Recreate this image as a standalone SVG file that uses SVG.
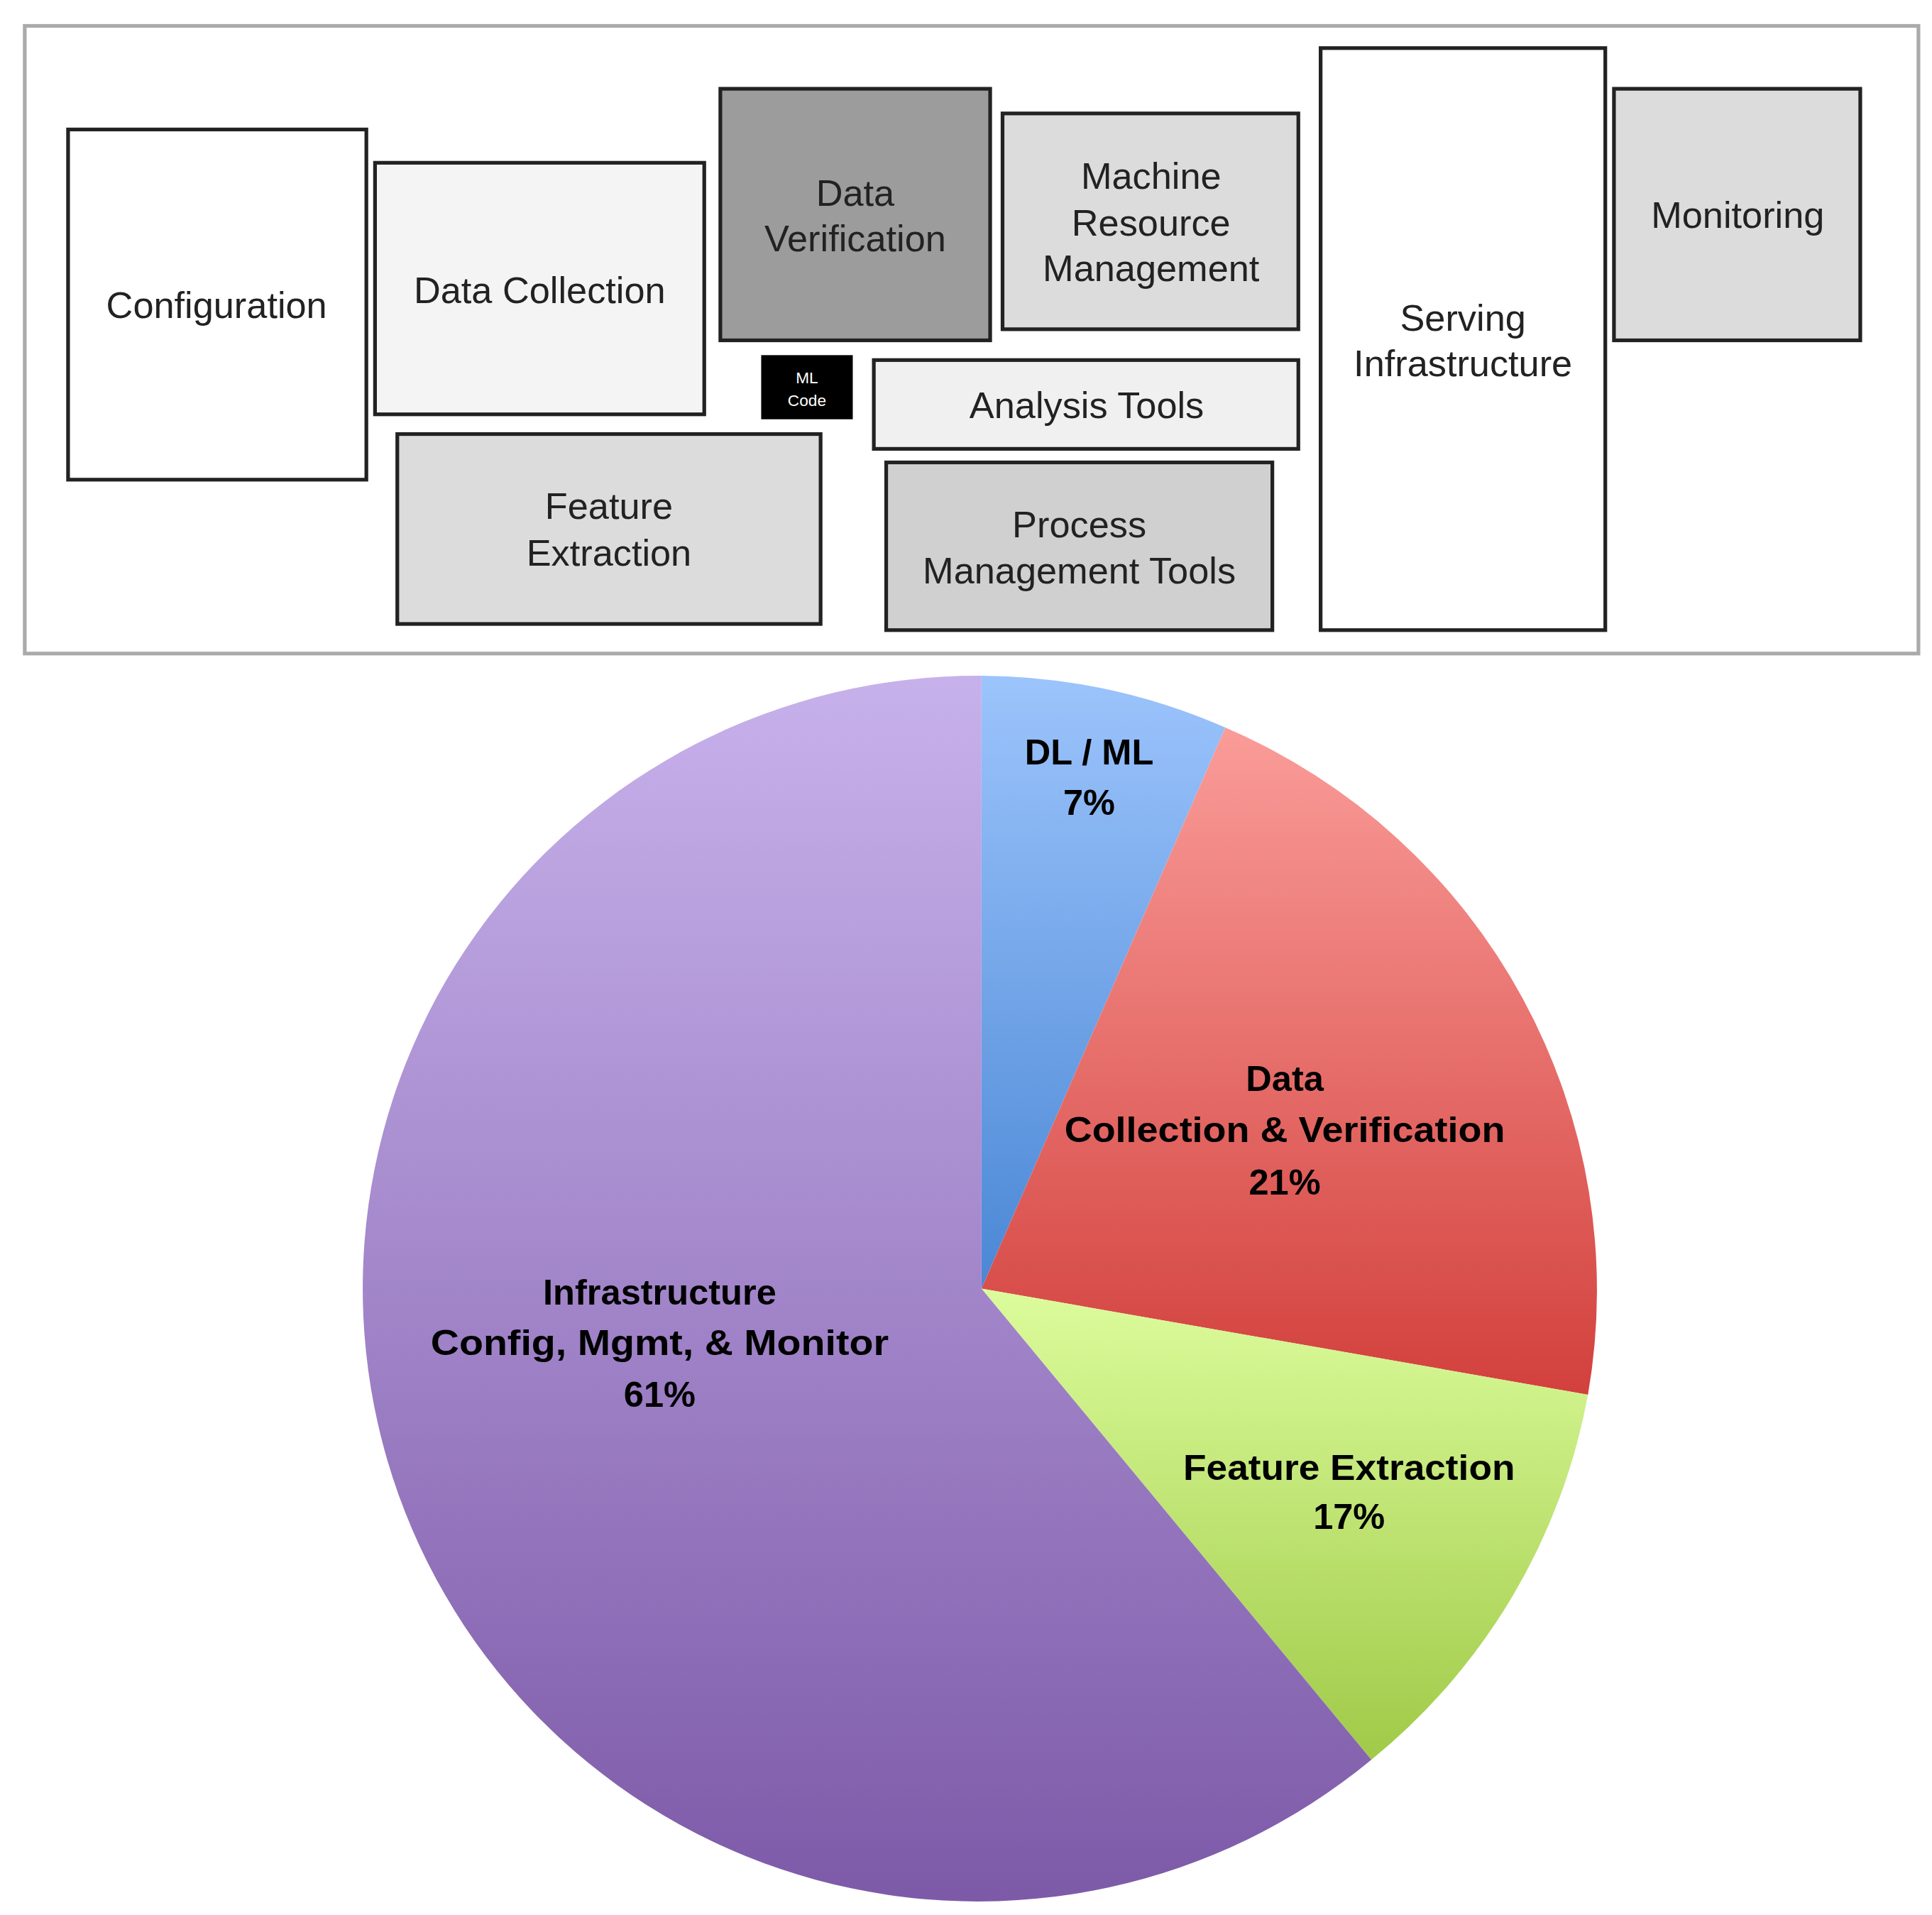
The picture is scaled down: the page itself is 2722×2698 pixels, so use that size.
<svg xmlns="http://www.w3.org/2000/svg" width="2722" height="2698" viewBox="0 0 2722 2698">
<style>
.box{stroke:#222;stroke-width:3}
.bt{font-family:"Liberation Sans",Arial,sans-serif;font-size:30px;fill:#222;text-anchor:middle}
.pl{font-family:"Liberation Sans",Arial,sans-serif;font-weight:bold;font-size:29px;fill:#000;text-anchor:middle}
</style>
<defs>
<linearGradient id="gb" x1="0" y1="0" x2="0" y2="1"><stop offset="0" stop-color="#9cc4fc"/><stop offset="1" stop-color="#4a87d5"/></linearGradient>
<linearGradient id="gr" x1="0" y1="0" x2="0" y2="1"><stop offset="0" stop-color="#fa9c99"/><stop offset="1" stop-color="#d2403c"/></linearGradient>
<linearGradient id="gg" x1="0" y1="0" x2="0" y2="1"><stop offset="0" stop-color="#dcfc9c"/><stop offset="1" stop-color="#a0ca48"/></linearGradient>
<linearGradient id="gp" x1="0" y1="0" x2="0" y2="1"><stop offset="0" stop-color="#c7b1eb"/><stop offset="1" stop-color="#7d5aa8"/></linearGradient>
</defs>
<rect width="2722" height="2698" fill="#fff"/>
<g transform="scale(1.7438,1.7373)">
<rect x="20" y="21" width="1530" height="509" fill="#fff" stroke="#aaa" stroke-width="3"/>
<g id="configuration"><rect class="box" x="55" y="105" width="241" height="284" fill="#fff"/><text class="bt" x="175" y="258">Configuration</text></g>
<g id="data-collection"><rect class="box" x="303" y="132" width="266" height="204" fill="#f4f4f4"/><text class="bt" x="436" y="246">Data Collection</text></g>
<g id="data-verification"><rect class="box" x="582" y="72" width="218" height="204" fill="#9c9c9c"/><text class="bt" x="691" y="167">Data</text><text class="bt" x="691" y="204">Verification</text></g>
<g id="machine-resource"><rect class="box" x="810" y="92" width="239" height="175" fill="#dcdcdc"/><text class="bt" x="930" y="153">Machine</text><text class="bt" x="930" y="191">Resource</text><text class="bt" x="930" y="228">Management</text></g>
<g id="serving"><rect class="box" x="1067" y="39" width="230" height="472" fill="#fff"/><text class="bt" x="1182" y="268">Serving</text><text class="bt" x="1182" y="305">Infrastructure</text></g>
<g id="monitoring"><rect class="box" x="1304" y="72" width="199" height="204" fill="#dcdcdc"/><text class="bt" x="1404" y="185">Monitoring</text></g>
<g id="ml-code"><rect x="615" y="288" width="74" height="52" fill="#000"/><text x="652" y="311" font-family="Liberation Sans,Arial,sans-serif" font-size="13" fill="#fff" text-anchor="middle">ML</text><text x="652" y="329" font-family="Liberation Sans,Arial,sans-serif" font-size="13" fill="#fff" text-anchor="middle">Code</text></g>
<g id="analysis-tools"><rect class="box" x="706" y="292" width="343" height="72" fill="#f0f0f0"/><text class="bt" x="878" y="339">Analysis Tools</text></g>
<g id="feature-extraction"><rect class="box" x="321" y="352" width="342" height="154" fill="#dcdcdc"/><text class="bt" x="492" y="421">Feature</text><text class="bt" x="492" y="459">Extraction</text></g>
<g id="process-mgmt"><rect class="box" x="716" y="375" width="312" height="136" fill="#d0d0d0"/><text class="bt" x="872" y="436">Process</text><text class="bt" x="872" y="473">Management Tools</text></g>
<g id="pie">
<path d="M793,1045 L793,548 A497,497 0 0 1 990,590 Z" fill="url(#gb)"/>
<path d="M793,1045 L990,590 A497,497 0 0 1 1283,1131 Z" fill="url(#gr)"/>
<path d="M793,1045 L1283,1131 A497,497 0 0 1 1108,1427 Z" fill="url(#gg)"/>
<path d="M793,1045 L1108,1427 A497,497 0 1 1 793,548 Z" fill="url(#gp)"/>
<text class="pl" x="880" y="620">DL / ML</text><text class="pl" x="880" y="661">7%</text>
<text class="pl" x="1038" y="885">Data</text><text class="pl" x="1038" y="926" textLength="356" lengthAdjust="spacingAndGlyphs">Collection &amp; Verification</text><text class="pl" x="1038" y="969">21%</text>
<text class="pl" x="1090" y="1200" textLength="268" lengthAdjust="spacingAndGlyphs">Feature Extraction</text><text class="pl" x="1090" y="1240">17%</text>
<text class="pl" x="533" y="1058">Infrastructure</text><text class="pl" x="533" y="1099" textLength="370" lengthAdjust="spacingAndGlyphs">Config, Mgmt, &amp; Monitor</text><text class="pl" x="533" y="1141">61%</text>
</g>
</g>
</svg>
